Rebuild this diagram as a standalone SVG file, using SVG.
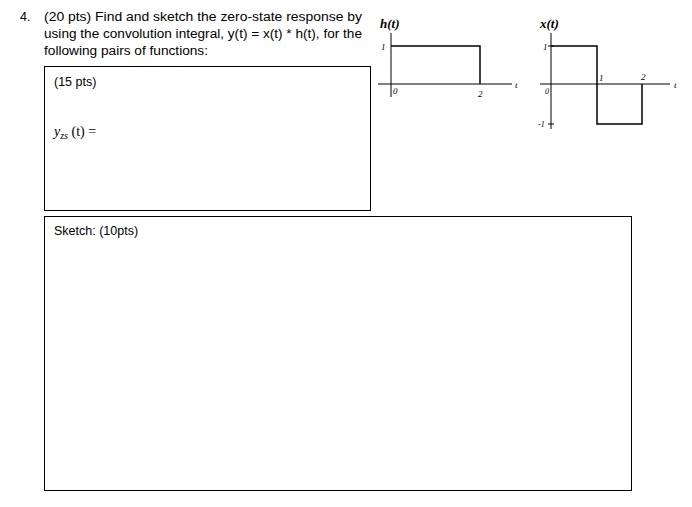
<svg xmlns="http://www.w3.org/2000/svg" width="692" height="507" viewBox="0 0 692 507">
<style>
.t{font-family:"Liberation Sans",Arial,sans-serif;font-size:12.5px;fill:#000}
.i{font-family:"Liberation Serif","Times New Roman",serif;font-style:italic;fill:#000}
.ax{stroke:#000;stroke-width:1;fill:none}
.sig{stroke:#000;stroke-width:1.5;fill:none}
.box{fill:#fff;stroke:#000;stroke-width:1}
</style>
<rect width="692" height="507" fill="#fff"/>
<g id="question">
<text class="t" x="20" y="21">4.</text>
<text class="t" x="44" y="21" textLength="318" lengthAdjust="spacingAndGlyphs">(20 pts)  Find and sketch the zero-state response by</text>
<text class="t" x="44" y="38" textLength="318" lengthAdjust="spacingAndGlyphs">using the convolution integral, y(t) = x(t) * h(t), for the</text>
<text class="t" x="44" y="55" textLength="164" lengthAdjust="spacingAndGlyphs">following pairs of functions:</text>
</g>
<g id="answer-box">
<rect class="box" x="44.5" y="66.5" width="326" height="144"/>
<text class="t" x="54" y="86">(15 pts)</text>
<text class="i" x="54" y="136" font-size="14">y<tspan font-size="10" dy="3">zs</tspan><tspan dy="-3" font-style="normal"> (t) =</tspan></text>
</g>
<g id="sketch-box">
<rect class="box" x="44.5" y="216.5" width="587" height="274"/>
<text class="t" x="54" y="235">Sketch: (10pts)</text>
</g>
<g id="h-plot">
<line class="ax" x1="391" y1="33" x2="391" y2="97"/>
<line class="ax" x1="378" y1="84" x2="512" y2="84"/>
<polyline class="sig" points="391,46 480,46 480,84"/>
<text class="i" x="380" y="28" font-size="13" font-weight="bold">h(t)</text>
<text class="i" x="381" y="50" font-size="9">1</text>
<text class="i" x="393" y="94" font-size="9">0</text>
<text class="i" x="478" y="97" font-size="9">2</text>
<text class="i" x="515" y="88" font-size="9">t</text>
</g>
<g id="x-plot">
<line class="ax" x1="551" y1="33" x2="551" y2="129"/>
<line class="ax" x1="540" y1="84" x2="670" y2="84"/>
<line class="ax" x1="548" y1="46" x2="554" y2="46"/>
<line class="ax" x1="548" y1="124" x2="554" y2="124"/>
<polyline class="sig" points="551,46 597,46 597,124 642,124 642,84"/>
<text class="i" x="540" y="28" font-size="13" font-weight="bold">x(t)</text>
<text class="i" x="543" y="50" font-size="9">1</text>
<text class="i" x="545" y="94" font-size="8">0</text>
<text class="i" x="599" y="81" font-size="9">1</text>
<text class="i" x="641" y="80" font-size="9">2</text>
<text class="i" x="538" y="127" font-size="8">-1</text>
<text class="i" x="674" y="88" font-size="9">t</text>
</g>
</svg>
